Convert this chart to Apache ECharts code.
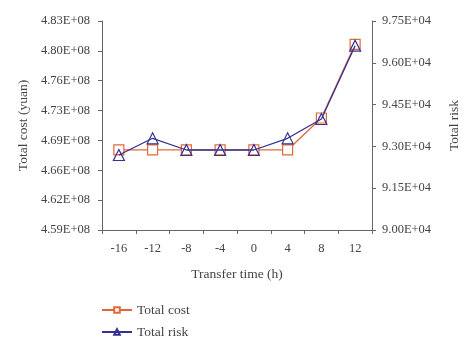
<!DOCTYPE html>
<html>
<head>
<meta charset="utf-8">
<script src="https://cdn.jsdelivr.net/npm/echarts@6/dist/echarts.min.js"></script>
<style>
  html, body { margin: 0; padding: 0; background: #fff; }
  #chart { width: 474px; height: 353px; }
</style>
</head>
<body>
<div id="chart"></div>
<script>
// transfer time categories (h)
const hours = ['-16', '-12', '-8', '-4', '0', '4', '8', '12']
// total cost (yuan), left axis
const totalCost = [4.6819e8, 4.6819e8, 4.6819e8, 4.6819e8, 4.6819e8, 4.6819e8, 4.7186e8, 4.8032e8]
// total risk, right axis
const totalRisk = [92692, 93291, 92871, 92871, 92871, 93291, 93984, 96615]

const costColor = '#e2683a'
const riskColor = '#35318e'
const font = 'Liberation Serif'

// 4.62E+08 style labels
const sci = (v) => {
  const [m, e] = Number(v).toExponential(2).split('e')
  const n = Math.abs(Number(e))
  return m + 'E' + (Number(e) < 0 ? '-' : '+') + (n < 10 ? '0' + n : n)
}

const myChart = echarts.init(document.getElementById('chart'))
const axisLabelStyle = { color: '#444', fontFamily: font, fontSize: 12.5 }

let option = {
  animation: false,
  textStyle: { fontFamily: font },
  grid: { left: 102, right: 102, top: 21, bottom: 123 },
  legend: {
    orient: 'vertical',
    left: 96,
    top: 298,
    itemGap: 8,
    itemWidth: 30,
    itemHeight: 7,
    textStyle: { color: '#444', fontFamily: font, fontSize: 13.5 },
    data: ['Total cost', 'Total risk'],
  },
  xAxis: {
    type: 'category',
    data: hours,
    name: 'Transfer time (h)',
    nameLocation: 'middle',
    nameGap: 37,
    nameTextStyle: { color: '#444', fontFamily: font, fontSize: 13.5 },
    axisLine: { lineStyle: { color: '#666', width: 1 } },
    axisTick: { show: true, length: 4, lineStyle: { color: '#666' } },
    axisLabel: { ...axisLabelStyle, margin: 12 },
  },
  yAxis: [
    {
      type: 'value',
      name: 'Total cost (yuan)',
      nameLocation: 'middle',
      nameGap: 72,
      nameTextStyle: { color: '#444', fontFamily: font, fontSize: 13.5 },
      min: 4.59e8,
      max: 4.83e8,
      interval: 0.24e8 / 7,
      axisLine: { show: true, lineStyle: { color: '#666' } },
      axisTick: { show: true, length: 4, lineStyle: { color: '#666' } },
      splitLine: { show: false },
      axisLabel: { ...axisLabelStyle, margin: 12, formatter: sci },
    },
    {
      type: 'value',
      name: 'Total risk',
      nameLocation: 'middle',
      nameGap: 75,
      nameTextStyle: { color: '#444', fontFamily: font, fontSize: 13.5 },
      min: 90000,
      max: 97500,
      interval: 1500,
      axisLine: { show: true, lineStyle: { color: '#666' } },
      axisTick: { show: true, length: 4, lineStyle: { color: '#666' } },
      splitLine: { show: false },
      axisLabel: { ...axisLabelStyle, margin: 10, formatter: sci },
    },
  ],
  series: [
    {
      name: 'Total cost',
      type: 'line',
      yAxisIndex: 0,
      data: totalCost,
      symbol: 'rect',
      symbolSize: 10,
      showAllSymbol: true,
      itemStyle: { color: '#fff', borderColor: costColor, borderWidth: 1.2 },
      lineStyle: { color: costColor, width: 1.3 },
      z: 2,
    },
    {
      name: 'Total risk',
      type: 'line',
      yAxisIndex: 1,
      data: totalRisk,
      symbol: 'triangle',
      symbolSize: 11,
      showAllSymbol: true,
      itemStyle: { color: 'rgba(255,255,255,0)', borderColor: riskColor, borderWidth: 1.2 },
      lineStyle: { color: riskColor, width: 1.3 },
      z: 3,
    },
  ],
}
myChart.setOption(option)
</script>
</body>
</html>
